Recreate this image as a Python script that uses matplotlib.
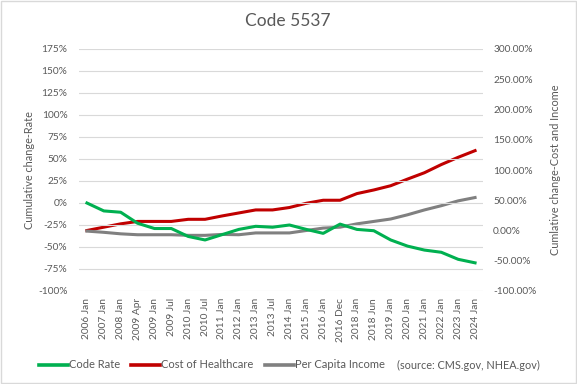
import matplotlib.pyplot as plt
from matplotlib.ticker import FuncFormatter, MultipleLocator
from matplotlib.patches import Rectangle

plt.rcParams['font.family'] = ['Lato', 'DejaVu Sans']

periods = ["2006 Jan", "2007 Jan", "2008 Jan", "2009 Apr", "2009 Jan", "2009 Jul",
           "2010 Jan", "2010 Jul", "2011 Jan", "2012 Jan", "2013 Jan", "2013 Jul",
           "2014 Jan", "2015 Jan", "2016 Jan", "2016 Dec", "2018 Jan", "2018 Jun",
           "2019 Jan", "2020 Jan", "2021 Jan", "2022 Jan", "2023 Jan", "2024 Jan"]

# cumulative change in %
code_rate = [0, -9, -10.5, -23, -29, -29, -38, -42, -36, -30, -26.5, -27.5,
             -25, -30, -34.5, -24, -30, -31.5, -42, -49, -53.5, -56, -64, -68]
cost_healthcare = [0, 5.5, 11, 15, 15, 15, 18.5, 18.5, 24, 29, 34, 34,
                   38, 45, 50, 50, 61, 67, 74, 85, 95.5, 109, 121, 132]
income = [-1, -3, -5.5, -7, -7, -7, -8, -8, -6.5, -7, -4, -4,
          -4, 0, 4, 5.5, 11, 15, 19, 26, 34, 41, 49, 54.5]

green = "#00B050"
red = "#C00000"
gray = "#808080"
txt = "#595959"

fig = plt.figure(figsize=(5.77, 3.84), dpi=100)
ax = fig.add_axes([78.5 / 577, 1 - 291 / 384, 405 / 577, 242 / 384])
ax2 = ax.twinx()

x = range(len(periods))
ax.plot(x, code_rate, color=green, lw=2.2, zorder=3)
ax2.plot(x, cost_healthcare, color=red, lw=2.2)
ax2.plot(x, income, color=gray, lw=2.2)

ax.set_xlim(-0.5, len(periods) - 0.5)
ax.set_ylim(-100, 175)
ax2.set_ylim(-100, 300)
ax.yaxis.set_major_locator(MultipleLocator(25))
ax2.yaxis.set_major_locator(MultipleLocator(50))
ax.yaxis.set_major_formatter(FuncFormatter(lambda v, p: f"{v:.0f}%"))
ax2.yaxis.set_major_formatter(FuncFormatter(lambda v, p: f"{v:.2f}%"))

ax.set_xticks(list(x))
ax.set_xticklabels(periods, rotation=90)
ax.grid(axis='y', color="#D9D9D9", lw=0.8)
ax.set_axisbelow(True)
ax.set_zorder(ax2.get_zorder() + 1)
ax.patch.set_visible(False)

for a in (ax, ax2):
    for s in a.spines.values():
        s.set_visible(False)
    a.tick_params(length=0, labelsize=7.3, colors=txt)
ax.tick_params(axis='y', pad=8)
ax2.tick_params(axis='y', pad=7)
ax.tick_params(axis='x', pad=5)

ax.set_ylabel("Cumulative change-Rate", fontsize=7.8, color=txt, labelpad=2)
ax2.set_ylabel("Cumlative change-Cost and Income", fontsize=7.8, color=txt, labelpad=10)

fig.text(288 / 577, 1 - 21 / 384, "Code 5537", ha='center', va='center', fontsize=12.5, color=txt)

handles = [plt.Line2D([], [], color=c, lw=2.6) for c in (green, red, gray)]
fig.legend(handles, ["Code Rate", "Cost of Healthcare", "Per Capita Income"],
           loc='center', bbox_to_anchor=(212 / 577, 1 - 365 / 384), ncol=3,
           frameon=False, fontsize=8, labelcolor=txt, handlelength=2.6,
           handletextpad=0.1, columnspacing=1.0)
fig.text(397 / 577, 1 - 365 / 384, "(source: CMS.gov, NHEA.gov)", ha='left', va='center',
         fontsize=7.8, color=txt)

fig.patches.append(Rectangle((0.002, 0.003), 0.996, 0.994, transform=fig.transFigure,
                             fill=False, edgecolor="#D9D9D9", lw=1))

fig.savefig("out.png", dpi=100)
